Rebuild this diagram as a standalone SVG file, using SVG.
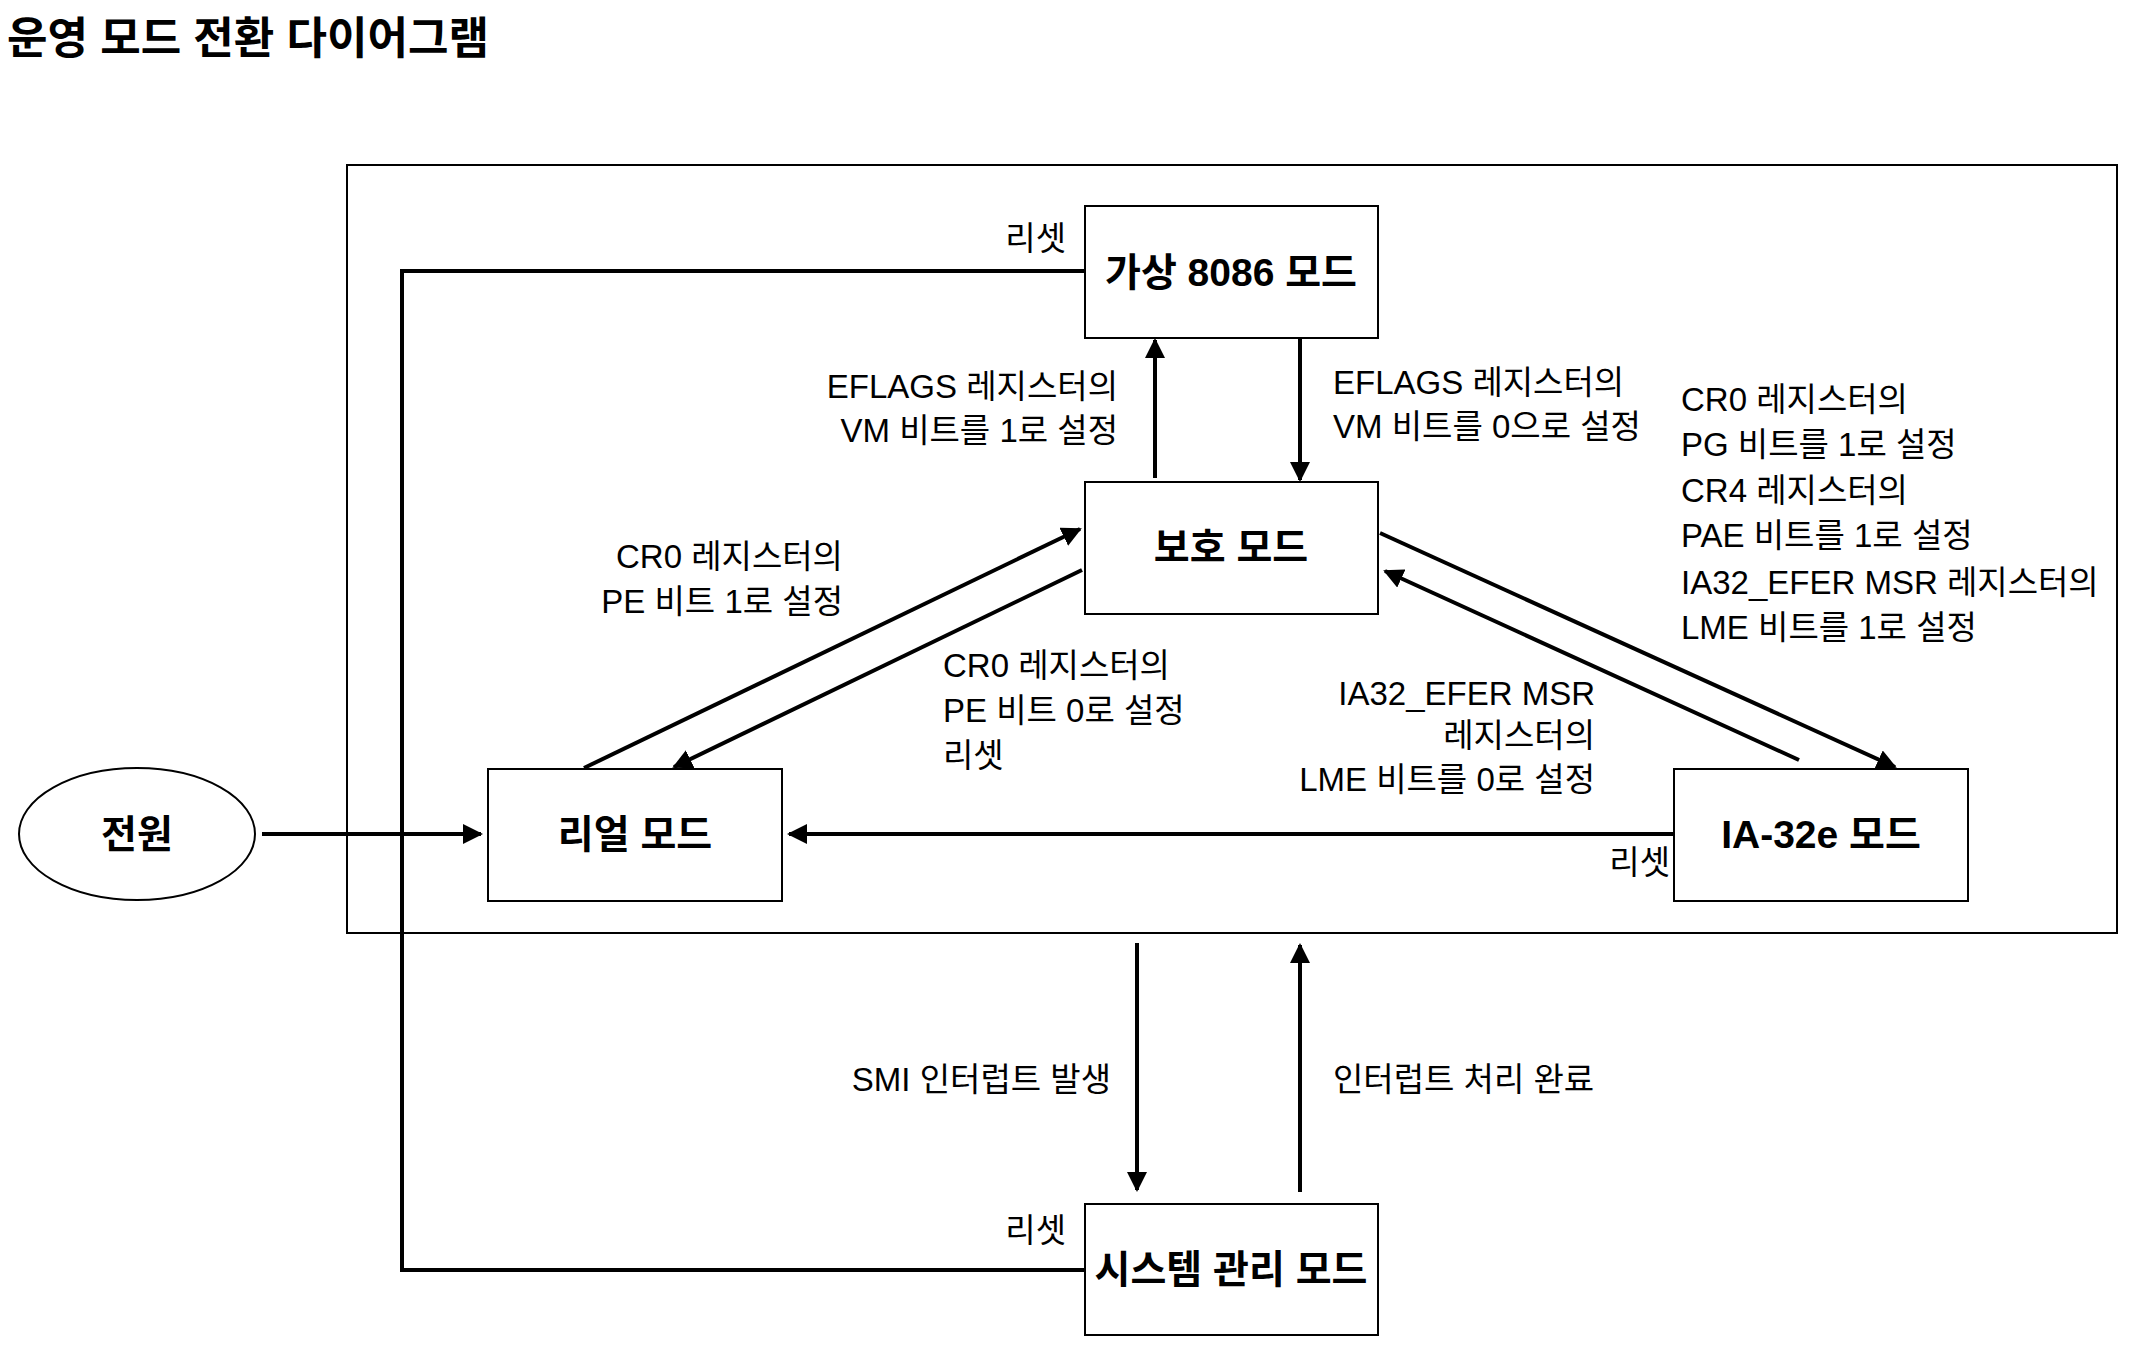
<svg xmlns="http://www.w3.org/2000/svg" width="2132" height="1352" viewBox="0 0 2132 1352">
<style>
.n{fill:#fff;stroke:#000;stroke-width:2}
.t{font-family:"Liberation Sans","Noto Sans CJK KR",sans-serif;font-size:33px;fill:#000}
.b{font-family:"Liberation Sans","Noto Sans CJK KR",sans-serif;font-size:39px;font-weight:bold;fill:#000;text-anchor:middle}
.c{stroke:#000;stroke-width:4;fill:none}
.a{marker-end:url(#ah)}
.e{text-anchor:end}
</style>
<defs><marker id="ah" viewBox="0 0 10 10" refX="9" refY="5" markerWidth="5" markerHeight="5" orient="auto" markerUnits="strokeWidth"><path d="M0,0L10,5L0,10z" fill="#000"/></marker></defs>
<rect width="2132" height="1352" fill="#fff"/>
<text x="7" y="54" style="font-family:'Liberation Sans','Noto Sans CJK KR',sans-serif;font-size:44px;font-weight:bold">운영 모드 전환 다이어그램</text>
<rect x="347" y="165" width="1770" height="768" fill="none" stroke="#000" stroke-width="2"/>
<g id="connectors">
<path class="c" d="M1085,271H402V1270H1085"/>
<path class="c a" d="M262,834H481"/>
<path class="c a" d="M1155,478V340"/>
<path class="c a" d="M1300,338V480"/>
<path class="c a" d="M584,768L1080,529"/>
<path class="c a" d="M1082,570L674,767"/>
<path class="c a" d="M1380,533L1895,767"/>
<path class="c a" d="M1799,760L1385,571"/>
<path class="c a" d="M1674,834H789"/>
<path class="c a" d="M1137,943V1190"/>
<path class="c a" d="M1300,1192V945"/>
</g>
<g id="power"><ellipse class="n" cx="137" cy="834" rx="118" ry="66"/><text class="b" x="137" y="848">전원</text></g>
<g id="v8086"><rect class="n" x="1085" y="206" width="293" height="132"/><text class="b" x="1231" y="286">가상 8086 모드</text></g>
<g id="protected"><rect class="n" x="1085" y="482" width="293" height="132"/><text class="b" x="1231" y="561">보호 모드</text></g>
<g id="real"><rect class="n" x="488" y="769" width="294" height="132"/><text class="b" x="635" y="848">리얼 모드</text></g>
<g id="ia32e"><rect class="n" x="1674" y="769" width="294" height="132"/><text class="b" x="1821" y="848">IA-32e 모드</text></g>
<g id="smm"><rect class="n" x="1085" y="1204" width="293" height="131"/><text class="b" x="1231" y="1283">시스템 관리 모드</text></g>
<g id="labels">
<text class="t e" x="1066" y="250">리셋</text>
<text class="t e" x="1118" y="398">EFLAGS 레지스터의</text>
<text class="t e" x="1118" y="442">VM 비트를 1로 설정</text>
<text class="t" x="1333" y="394">EFLAGS 레지스터의</text>
<text class="t" x="1333" y="438">VM 비트를 0으로 설정</text>
<text class="t" x="1681" y="411">CR0 레지스터의</text>
<text class="t" x="1681" y="456">PG 비트를 1로 설정</text>
<text class="t" x="1681" y="502">CR4 레지스터의</text>
<text class="t" x="1681" y="547">PAE 비트를 1로 설정</text>
<text class="t" x="1681" y="594">IA32_EFER MSR 레지스터의</text>
<text class="t" x="1681" y="639">LME 비트를 1로 설정</text>
<text class="t e" x="843" y="568">CR0 레지스터의</text>
<text class="t e" x="843" y="613">PE 비트 1로 설정</text>
<text class="t" x="943" y="677">CR0 레지스터의</text>
<text class="t" x="943" y="722">PE 비트 0로 설정</text>
<text class="t" x="943" y="767">리셋</text>
<text class="t e" x="1595" y="705">IA32_EFER MSR</text>
<text class="t e" x="1595" y="747">레지스터의</text>
<text class="t e" x="1595" y="791">LME 비트를 0로 설정</text>
<text class="t e" x="1670" y="874">리셋</text>
<text class="t e" x="1111" y="1091">SMI 인터럽트 발생</text>
<text class="t" x="1333" y="1091">인터럽트 처리 완료</text>
<text class="t e" x="1066" y="1242">리셋</text>
</g>
</svg>
